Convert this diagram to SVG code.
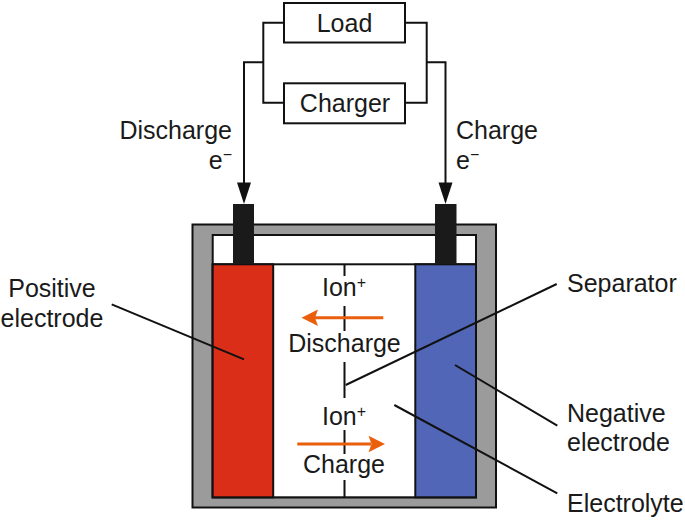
<svg xmlns="http://www.w3.org/2000/svg" width="685" height="524" viewBox="0 0 685 524">
<style>
text{font-family:"Liberation Sans",Arial,sans-serif;font-size:25px;fill:#1a1a1a}
.ln{stroke:#111;stroke-width:2;fill:none}
.box{fill:#fff;stroke:#111;stroke-width:2}
.or{stroke:#E95F0C;stroke-width:3;fill:none}
.orh{fill:#E95F0C}
.sup{font-size:16px}
</style>
<rect width="685" height="524" fill="#fff"/>
<g id="casing">
<rect x="192.5" y="224.5" width="303.5" height="283" fill="#9B9B9B" stroke="#111" stroke-width="2"/>
<rect x="212.7" y="235" width="263.3" height="262.3" fill="#fff" stroke="#111" stroke-width="2"/>
</g>
<g id="electrolyte">
<rect x="212.7" y="264.3" width="263.3" height="233" fill="#fff" stroke="#111" stroke-width="2"/>
</g>
<g id="positive-electrode">
<rect x="212.7" y="264.3" width="60.5" height="233" fill="#DB2E19" stroke="#111" stroke-width="2"/>
</g>
<g id="negative-electrode">
<rect x="415.3" y="264.3" width="60.7" height="233" fill="#5166B6" stroke="#111" stroke-width="2"/>
</g>
<g id="terminals">
<rect x="233" y="204" width="21" height="60.3" fill="#1a1a1a"/>
<rect x="435" y="204" width="21.5" height="60.3" fill="#1a1a1a"/>
</g>
<g id="separator" class="ln">
<path d="M344.5 264.3V276M344.5 306V331M344.5 362V398M344.5 430V454M344.5 480V497.3"/>
</g>
<g id="load">
<rect class="box" x="284" y="3" width="121" height="39.5"/>
<text x="344.5" y="31.5" text-anchor="middle">Load</text>
</g>
<g id="charger">
<rect class="box" x="284" y="83.3" width="121" height="40"/>
<text x="345" y="111.7" text-anchor="middle">Charger</text>
</g>
<g id="connectors">
<path class="ln" d="M284 22.7H263.3V102.7H284M263.3 62.3H244V183"/>
<path class="ln" d="M405 22.7H426.7V102.7H405M426.7 62.3H445.5V183"/>
<polygon points="237,182.5 251,182.5 244,204" fill="#111"/>
<polygon points="438.5,182.5 452.5,182.5 445.5,204" fill="#111"/>
<path class="or" d="M383.3 317.7H314"/>
<polygon class="orh" points="301.5,317.7 318,309.5 315,317.7 318,326"/>
<path class="or" d="M297.3 444H371"/>
<polygon class="orh" points="385,444 368.5,435.8 371.5,444 368.5,452.2"/>
<path class="ln" d="M111.7 304.3L244 359.3"/>
<path class="ln" d="M345.7 385L556.7 284"/>
<path class="ln" d="M455 365L557.3 425.7"/>
<path class="ln" d="M394.3 405L557.3 493.3"/>
</g>
<g id="labels">
<text x="232" y="139" text-anchor="end">Discharge</text>
<text x="232" y="169" text-anchor="end">e<tspan class="sup" dy="-9.5">−</tspan></text>
<text x="456" y="139">Charge</text>
<text x="456" y="169">e<tspan class="sup" dy="-9.5">−</tspan></text>
<text x="344" y="296" text-anchor="middle">Ion<tspan class="sup" dy="-8">+</tspan></text>
<text x="344.5" y="352" text-anchor="middle">Discharge</text>
<text x="344" y="425" text-anchor="middle">Ion<tspan class="sup" dy="-8">+</tspan></text>
<text x="344" y="473.3" text-anchor="middle">Charge</text>
<text x="52" y="297" text-anchor="middle">Positive</text>
<text x="52" y="326.5" text-anchor="middle">electrode</text>
<text x="567" y="292">Separator</text>
<text x="567" y="421.7">Negative</text>
<text x="567" y="451">electrode</text>
<text x="567" y="511.5">Electrolyte</text>
</g>
</svg>
